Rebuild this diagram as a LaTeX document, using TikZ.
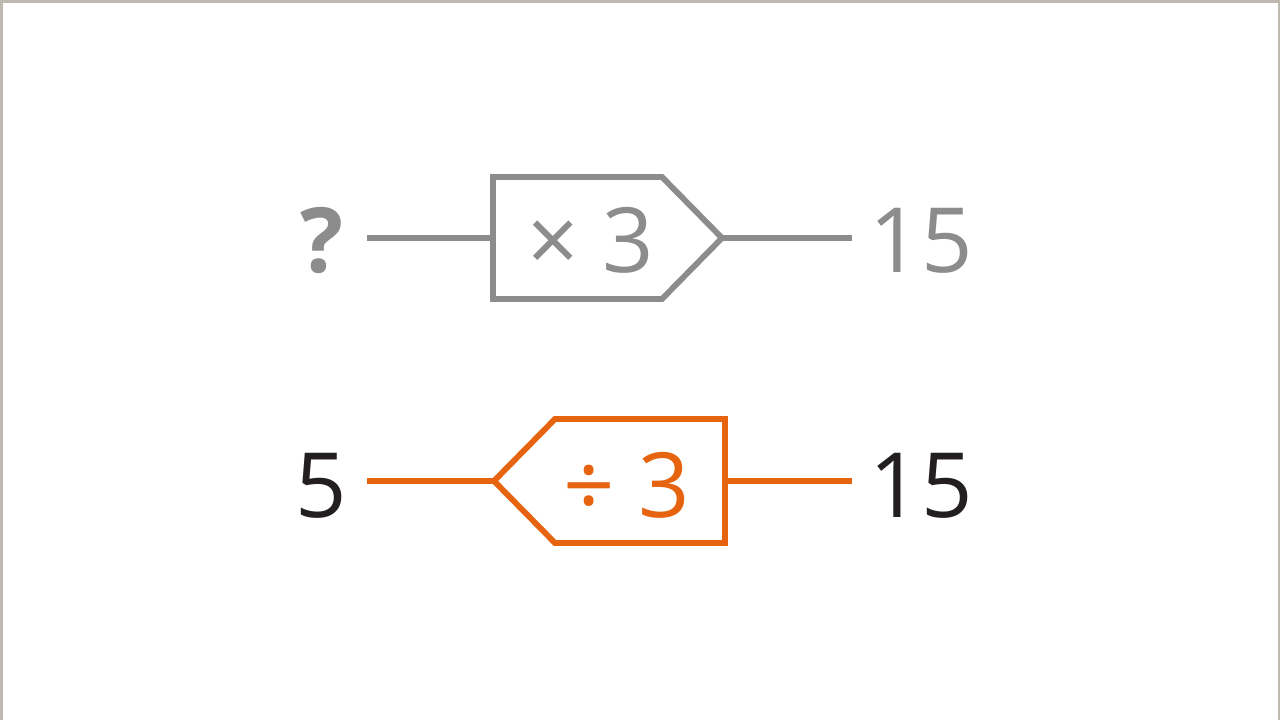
\documentclass[tikz,border=0pt]{standalone}
\usepackage{fontspec}
\setmainfont{Open Sans}
\definecolor{fgray}{RGB}{140,140,140}
\definecolor{forange}{RGB}{230,100,15}
\definecolor{fblack}{RGB}{35,31,32}
\definecolor{fframe}{RGB}{190,185,175}
\tikzset{
  lbl/.style={anchor=base, inner sep=0pt, font=\fontsize{90}{90}\selectfont},
  grayline/.style={draw=fgray, line width=5.8pt},
  orangeline/.style={draw=forange, line width=5.8pt},
}
\begin{document}
\begin{tikzpicture}[x=1pt,y=-1pt]
\useasboundingbox (0,0) rectangle (1280,720);
\fill[white] (0,0) rectangle (1280,720);
\draw[fframe, line width=2.5pt] (1.25,720) -- (1.25,1.25) -- (1278.75,1.25) -- (1278.75,720);

% top row
\draw[grayline, line join=miter] (493,177) -- (662,177) -- (722,238) -- (662,299) -- (493,299) -- cycle;
\coordinate (tBoxL) at (493,238);
\coordinate (tBoxR) at (722,238);
\coordinate (tInR) at (367,238);
\coordinate (tOutL) at (852,238);
\draw[grayline] (tInR) -- (tBoxL);
\draw[grayline] (tBoxR) -- (tOutL);
\node[lbl, text=fgray, font=\fontsize{90}{90}\selectfont\bfseries] (tq) at (322,272) {?};
\node[lbl, text=fgray] (top) at (591,272) {× 3};
\node[lbl, text=fgray] (t15) at (921,272) {15};

% bottom row
\draw[orangeline, line join=miter] (494,481) -- (555,419) -- (725,419) -- (725,543) -- (555,543) -- cycle;
\coordinate (bBoxL) at (494,481);
\coordinate (bBoxR) at (725,481);
\coordinate (bInR) at (367,481);
\coordinate (bOutL) at (852,481);
\draw[orangeline] (bInR) -- (bBoxL);
\draw[orangeline] (bBoxR) -- (bOutL);
\node[lbl, text=fblack] (b5) at (321,517) {5};
\node[lbl, text=forange] (bop) at (627,517) {÷ 3};
\node[lbl, text=fblack] (b15) at (921,517) {15};
\end{tikzpicture}
\end{document}
